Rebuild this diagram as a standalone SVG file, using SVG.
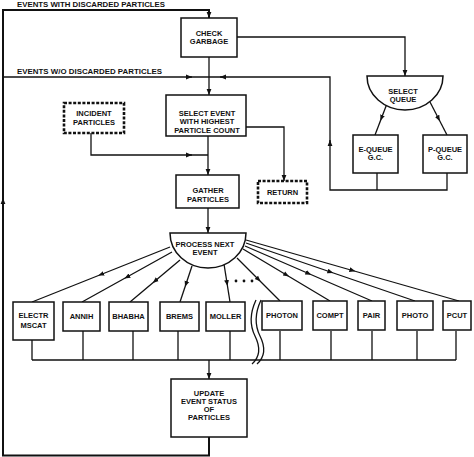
<svg xmlns="http://www.w3.org/2000/svg" width="474" height="457" viewBox="0 0 474 457">
<style>
.ln{stroke:#111;stroke-width:1.3;fill:none}
.bx{fill:#fff;stroke:#111;stroke-width:1.5}
.dbx{fill:#fff;stroke:#111;stroke-width:2.6;stroke-dasharray:3 1.6}
.t{font-family:"Liberation Sans",Arial,sans-serif;font-weight:bold;font-size:7.5px;fill:#111;text-anchor:middle}
.lab{font-family:"Liberation Sans",Arial,sans-serif;font-weight:bold;font-size:7.8px;fill:#111}
</style>
<defs>
<marker id="ah" viewBox="0 0 10 10" refX="10" refY="5" markerWidth="6" markerHeight="6" orient="auto" markerUnits="userSpaceOnUse"><path d="M0,1 L10,5 L0,9 z" fill="#111"/></marker>
<marker id="am" viewBox="0 0 10 10" refX="5" refY="5" markerWidth="6" markerHeight="6" orient="auto" markerUnits="userSpaceOnUse"><path d="M0,1 L10,5 L0,9 z" fill="#111"/></marker>
</defs>
<rect width="474" height="457" fill="#fff"/>
<text class="lab" x="17" y="6.5" textLength="148" lengthAdjust="spacingAndGlyphs">EVENTS WITH DISCARDED PARTICLES</text>
<text class="lab" x="17" y="74" textLength="145" lengthAdjust="spacingAndGlyphs">EVENTS W/O DISCARDED PARTICLES</text>
<g id="connectors">
<path class="ln" style="stroke-width:2" d="M209 437 V455.5 H3 V10 H209 V18" marker-end="url(#ah)"/>
<path class="ln" d="M3 205 V198" marker-end="url(#ah)"/>
<path class="ln" d="M3 77 H209"/>
<path class="ln" d="M186 77 H192" marker-end="url(#ah)"/>
<path class="ln" d="M209 57 V95" marker-end="url(#ah)"/>
<path class="ln" d="M237 37 H405 V76" marker-end="url(#ah)"/>
<path class="ln" d="M388 101 L381.5 118 L375 135" marker-mid="url(#am)"/>
<path class="ln" d="M430 102 L438.5 118.5 L447 135" marker-mid="url(#am)"/>
<path class="ln" d="M377 173 V190"/>
<path class="ln" d="M447 173 V190 H330 V77 H209"/>
<path class="ln" d="M330 146 V140" marker-end="url(#ah)"/>
<path class="ln" d="M226 77 H220" marker-end="url(#ah)"/>
<path class="ln" d="M91 133 V155 H208"/>
<path class="ln" d="M186 155 H192" marker-end="url(#ah)"/>
<path class="ln" d="M246 127 H284 V181" marker-end="url(#ah)"/>
<path class="ln" d="M208 136 V175" marker-end="url(#ah)"/>
<path class="ln" d="M208 208 V233" marker-end="url(#ah)"/>
<path class="ln" d="M170 247 L101 274.5 L32 302" marker-mid="url(#am)"/>
<path class="ln" d="M172 252 L127 277 L82 302" marker-mid="url(#am)"/>
<path class="ln" d="M180 260 L155 281 L130 302" marker-mid="url(#am)"/>
<path class="ln" d="M192 266 L186 284 L180 302" marker-mid="url(#am)"/>
<path class="ln" d="M224 264 L227 283 L230 302" marker-mid="url(#am)"/>
<path class="ln" d="M237 258 L258.5 279.5 L280 301" marker-mid="url(#am)"/>
<path class="ln" d="M243 249 L286.5 275 L330 301" marker-mid="url(#am)"/>
<path class="ln" d="M245 246 L308.5 273.5 L372 301" marker-mid="url(#am)"/>
<path class="ln" d="M246 243 L330.5 272 L415 301" marker-mid="url(#am)"/>
<path class="ln" d="M246 240 L352.5 270.5 L459 301" marker-mid="url(#am)"/>
<path class="ln" d="M32 340 V360 M83 331 V360 M133 331 V360 M178 331 V360 M230 331 V360 M280 331 V360 M331 331 V360 M372 331 V360 M417 331 V360 M456 331 V360 M32 360 H456"/>
<path class="ln" d="M209 360 V379" marker-end="url(#ah)"/>
<path class="ln" d="M256 300 C249 315 250 326 255 336 S261 356 252 364"/>
<path class="ln" d="M261 300 C254 315 255 326 260 336 S266 356 257 364"/>
<circle cx="236" cy="281" r="1.4" fill="#111"/>
<circle cx="244" cy="281" r="1.4" fill="#111"/>
<circle cx="252" cy="281" r="1.4" fill="#111"/>
</g>
<g id="check-garbage"><rect class="bx" x="181" y="18" width="56" height="39"/><text class="t" x="209" y="36">CHECK</text><text class="t" x="209" y="44">GARBAGE</text></g>
<g id="select-queue"><path class="bx" d="M367 76 H443 A38 34 0 0 1 367 76 Z"/><text class="t" x="403" y="94">SELECT</text><text class="t" x="403" y="102">QUEUE</text></g>
<g id="e-queue"><rect class="bx" x="353" y="135" width="45" height="38"/><text class="t" x="375.5" y="152">E-QUEUE</text><text class="t" x="375.5" y="160">G.C.</text></g>
<g id="p-queue"><rect class="bx" x="423" y="135" width="44" height="38"/><text class="t" x="445" y="152">P-QUEUE</text><text class="t" x="445" y="160">G.C.</text></g>
<g id="incident-particles"><rect class="dbx" x="64" y="103" width="60" height="30"/><text class="t" x="94" y="116">INCIDENT</text><text class="t" x="94" y="125">PARTICLES</text></g>
<g id="select-event"><rect class="bx" x="166" y="95" width="80" height="41"/><text class="t" x="207" y="116">SELECT EVENT</text><text class="t" x="207" y="124">WITH HIGHEST</text><text class="t" x="207" y="133">PARTICLE COUNT</text></g>
<g id="return"><rect class="dbx" x="258" y="181" width="49" height="22"/><text class="t" x="282.5" y="195">RETURN</text></g>
<g id="gather-particles"><rect class="bx" x="176" y="175" width="63" height="33"/><text class="t" x="208" y="193">GATHER</text><text class="t" x="208" y="202">PARTICLES</text></g>
<g id="process-next-event"><path class="bx" d="M170 233 H246 A38 35 0 0 1 170 233 Z"/><text class="t" x="205" y="247">PROCESS NEXT</text><text class="t" x="205" y="255">EVENT</text></g>
<g id="electr-mscat"><rect class="bx" x="13" y="302" width="41" height="38"/><text class="t" x="33.5" y="318">ELECTR</text><text class="t" x="33.5" y="328">MSCAT</text></g>
<g id="annih"><rect class="bx" x="63" y="302" width="37" height="29"/><text class="t" x="81.5" y="319">ANNIH</text></g>
<g id="bhabha"><rect class="bx" x="109" y="302" width="39" height="29"/><text class="t" x="128.5" y="319">BHABHA</text></g>
<g id="brems"><rect class="bx" x="160" y="302" width="39" height="29"/><text class="t" x="179.5" y="319">BREMS</text></g>
<g id="moller"><rect class="bx" x="206" y="302" width="39" height="29"/><text class="t" x="225.5" y="319">MOLLER</text></g>
<g id="photon"><rect class="bx" x="262" y="301" width="40" height="29"/><text class="t" x="282" y="318">PHOTON</text></g>
<g id="compt"><rect class="bx" x="313" y="301" width="34" height="29"/><text class="t" x="330" y="318">COMPT</text></g>
<g id="pair"><rect class="bx" x="358" y="301" width="27" height="29"/><text class="t" x="371.5" y="318">PAIR</text></g>
<g id="photo"><rect class="bx" x="397" y="301" width="36" height="29"/><text class="t" x="415" y="318">PHOTO</text></g>
<g id="pcut"><rect class="bx" x="443" y="301" width="28" height="29"/><text class="t" x="457" y="318">PCUT</text></g>
<g id="update-event-status"><rect class="bx" x="171" y="379" width="76" height="58"/><text class="t" x="209" y="396">UPDATE</text><text class="t" x="209" y="404">EVENT STATUS</text><text class="t" x="209" y="412">OF</text><text class="t" x="209" y="420">PARTICLES</text></g>
</svg>
